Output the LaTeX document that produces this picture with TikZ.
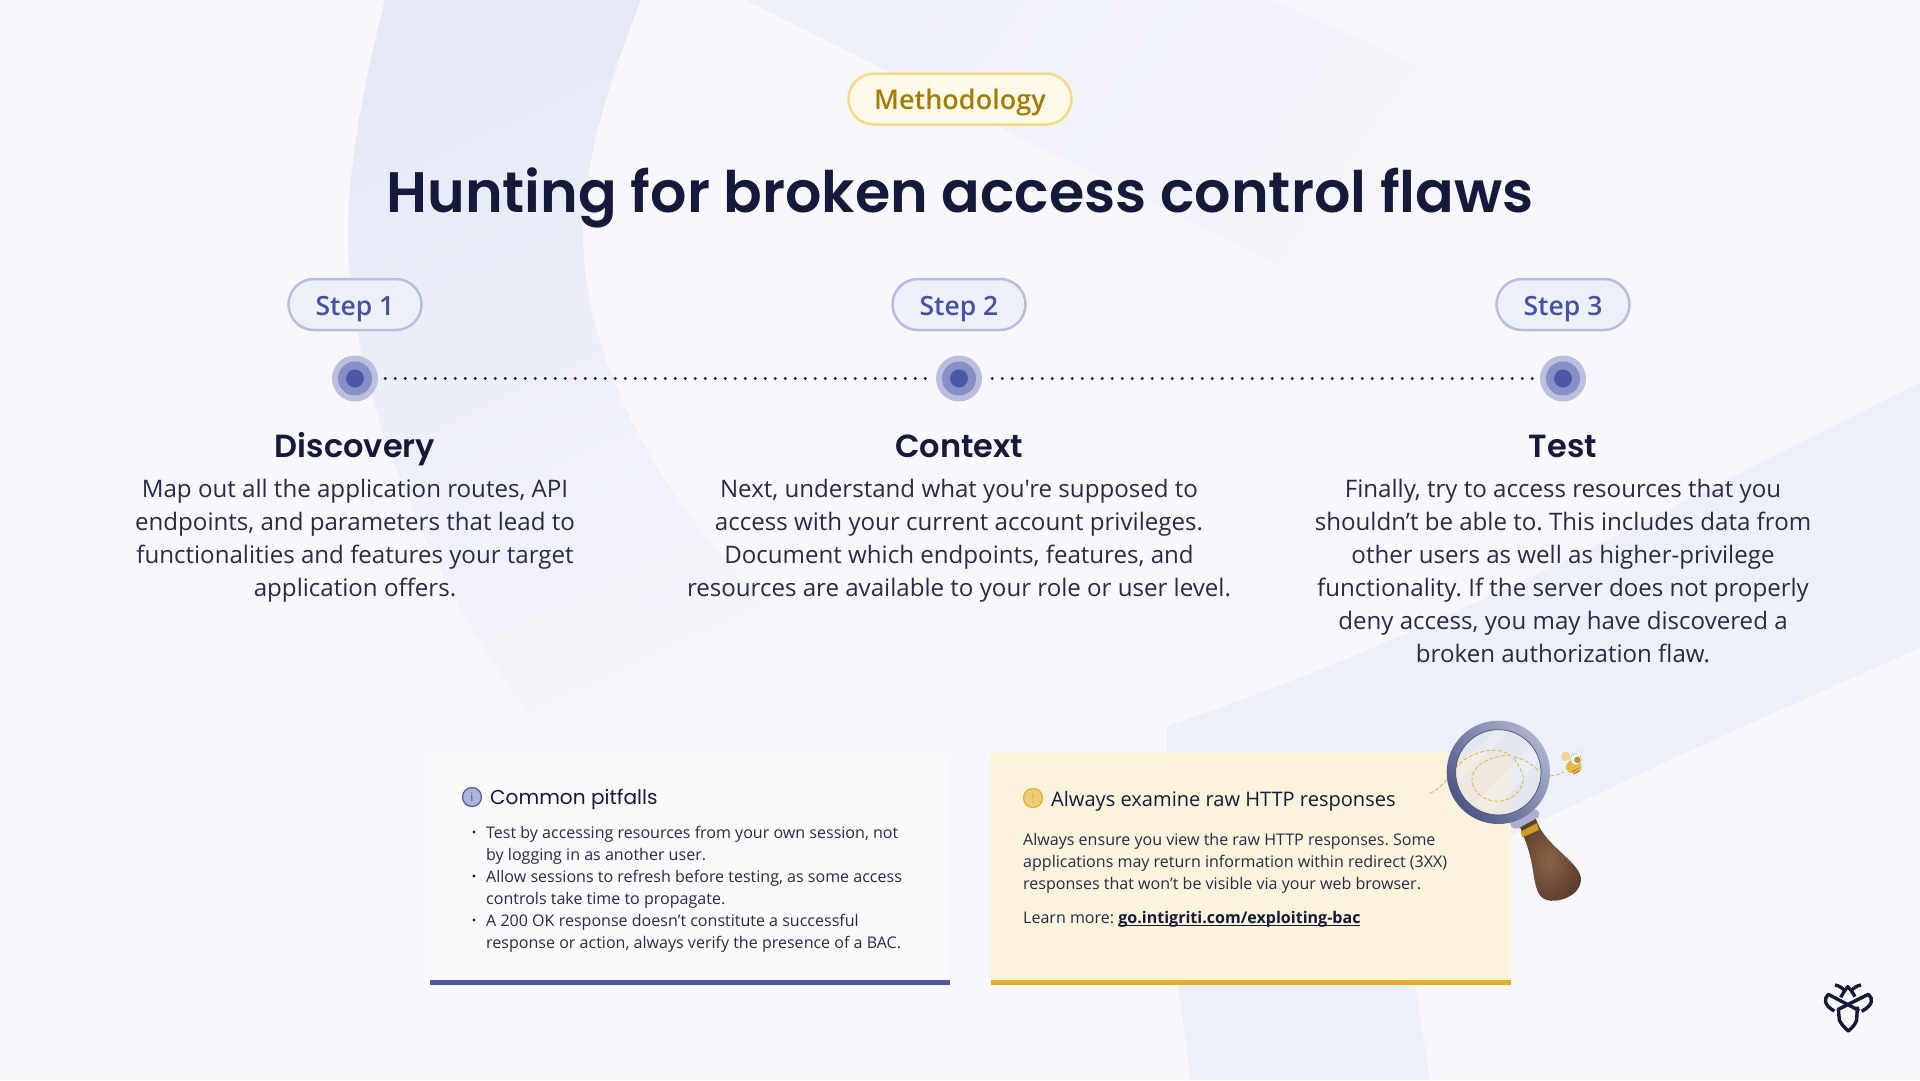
\documentclass[tikz,border=0pt]{standalone}
\usepackage{fontspec}
\usepackage{tikz}
\setmainfont{Open Sans}[Ligatures=TeXOff]
\newfontfamily\semifont{Open Sans Semibold}
\newfontfamily\headfont{Poppins SemiBold}
\newfontfamily\cardfont{Poppins}

\definecolor{pagebg}{HTML}{F7F7FC}
\definecolor{waveA}{HTML}{E6E9F5}
\definecolor{waveB}{HTML}{EEF0F9}
\definecolor{ink}{HTML}{161A3A}
\definecolor{bodyink}{HTML}{272B47}
\definecolor{indigo}{HTML}{4B58A8}
\definecolor{stepink}{HTML}{4352A3}
\definecolor{stepfill}{HTML}{EEF0F8}
\definecolor{stepline}{HTML}{B5BDE0}
\definecolor{goldink}{HTML}{A37C05}
\definecolor{goldfill}{HTML}{FEF9E8}
\definecolor{goldline}{HTML}{F5DA85}
\definecolor{gold}{HTML}{E3AE25}
\definecolor{cream}{HTML}{FBF3DC}
\definecolor{paper}{HTML}{FAFAFD}
\definecolor{handledark}{HTML}{5E3F2E}
\definecolor{handlelight}{HTML}{8A6248}
\definecolor{rimdark}{HTML}{4C5585}
\definecolor{rimlight}{HTML}{AEB2CC}
\definecolor{lens}{HTML}{CDCFDA}
\definecolor{collar}{HTML}{AAB0CE}
\definecolor{flight}{HTML}{D9B75C}

\tikzset{
	pill/.style={draw, line width=2.5pt, rounded corners=25.5pt, inner sep=0pt, minimum height=51pt, text height=21pt, text depth=0pt},
	stepbadge/.style={pill, fill=stepfill, draw=stepline, text=stepink, minimum width=133pt, font=\semifont\fontsize{26.5}{30}\selectfont},
	halo/.style={circle, inner sep=0pt, minimum size=46pt, fill=#1},
	dotline/.style={line width=3.2pt, line cap=round, dash pattern=on 0pt off 10pt, ink},
	colhead/.style={anchor=base, text=ink, font=\headfont\fontsize{32}{36}\selectfont},
	colbody/.style={anchor=north, align=center, inner sep=0pt, text=bodyink, font=\fontsize{24.1}{33}\selectfont},
	cardbody/.style={anchor=north west, align=left, inner sep=0pt, text=bodyink, font=\fontsize{16.05}{22}\selectfont},
	cardicon/.style={circle, inner sep=0pt, minimum size=19pt, line width=1.2pt},
	flightpath/.style={flight, line width=.9pt, dash pattern=on 4pt off 2pt},
}

\begin{document}
\frenchspacing
\begin{tikzpicture}[x=1pt,y=-1pt]
	\useasboundingbox (0,0) rectangle (1920,1080);
	\fill [pagebg] (0,0) rectangle (1920,1080);

	% Background %
	\shade [top color=waveA, middle color=waveB!55!pagebg, bottom color=pagebg, shading angle=25]
		(385,0) .. controls (362,90) and (348,170) .. (348,233) .. controls (348,400) and (440,610) .. (560,753)
		-- (950,753) -- (948,723) .. controls (720,620) and (583,400) .. (583,233) .. controls (583,170) and (605,90) .. (641,0) -- cycle;
	\shade [top color=waveB, bottom color=pagebg, shading angle=55]
		(746,0) -- (1381,317) -- (1600,150) -- (1273,0) -- cycle;
	\fill [waveB] (1167,726) .. controls (1350,665) and (1530,580) .. (1687,500) -- (1920,383) -- (1920,648)
		.. controls (1780,710) and (1640,770) .. (1400,890) -- (1415,985) -- (1430,1080) -- (1191,1080) -- (1178,985) -- (1167,753) -- cycle;

	% Header %
	\node [pill, fill=goldfill, draw=goldline, text=goldink, minimum width=223pt, font=\semifont\fontsize{27}{30}\selectfont] (badge) at (960,99) {Methodology};
	\node [anchor=base, text=ink, font=\headfont\fontsize{57.1}{60}\selectfont] (title) at (960,212) {Hunting for broken access control flaws};

	% Steps %
	\foreach \n/\x/\lab in {1/355/Step 1, 2/959/Step 2, 3/1563/Step 3} {
		\node [stepbadge] (pill\n) at (\x,304.5) {\lab};
		\node [halo=indigo!35!pagebg] (dot\n) at (\x,378.5) {};
		\node [halo=indigo!65!pagebg, minimum size=34pt] (mid\n) at (\x,378.5) {};
		\node [halo=indigo, minimum size=18pt] (core\n) at (\x,378.5) {};
	}
	\draw [dotline, shorten <=7pt, shorten >=9pt] (dot1) -- (dot2);
	\draw [dotline, shorten <=10pt, shorten >=7pt] (dot2) -- (dot3);

	% Columns %
	\node [colhead] (head1) at (355,457) {Discovery};
	\node [colhead] (head2) at (959,457) {Context};
	\node [colhead] (head3) at (1563,457) {Test};
	\node [colbody] (text1) at (355,479.3) {Map out all the application routes, API\\endpoints, and parameters that lead to\\functionalities and features your target\\application offers.};
	\node [colbody] (text2) at (959,479.3) {Next, understand what you're supposed to\\access with your current account privileges.\\Document which endpoints, features, and\\resources are available to your role or user level.};
	\node [colbody] (text3) at (1563,479.3) {Finally, try to access resources that you\\shouldn’t be able to. This includes data from\\other users as well as higher-privilege\\functionality. If the server does not properly\\deny access, you may have discovered a\\broken authorization flaw.};

	% Cards %
	\fill [paper] (430,753) rectangle (950,985);
	\fill [indigo] (430,980) rectangle (950,985);
	\fill [cream] (991,753) rectangle (1511,985);
	\fill [gold] (991,980) rectangle (1511,985);

	% Pitfalls %
	\node [cardicon, draw=indigo, fill=indigo!45!white, text=indigo, font=\fontsize{12}{12}\selectfont] (infoicon) at (472,797) {i};
	\node [anchor=base west, inner sep=0pt, text=ink, font=\cardfont\fontsize{20.1}{24}\selectfont] (pitfalls) at (490,804) {Common pitfalls};
	\foreach \y in {832, 876, 920} \fill [ink] (474,\y) circle (1.6);
	\node [cardbody] (pitfalltext) at (486,826) {Test by accessing resources from your own session, not\\by logging in as another user.\\Allow sessions to refresh before testing, as some access\\controls take time to propagate.\\A 200 OK response doesn’t constitute a successful\\response or action, always verify the presence of a BAC.};

	% Warning %
	\node [cardicon, draw=gold, fill=gold!55!cream, text=gold, font=\fontsize{12}{12}\selectfont] (warnicon) at (1033,798) {!};
	\node [anchor=base west, inner sep=0pt, text=ink, font=\fontsize{20.05}{24}\selectfont] (warning) at (1051,806) {Always examine raw HTTP responses};
	\node [cardbody] (warntext) at (1023,833) {Always ensure you view the raw HTTP responses. Some\\applications may return information within redirect (3XX)\\responses that won’t be visible via your web browser.};
	\node [anchor=base west, inner sep=0pt, text=bodyink, font=\fontsize{16.05}{22}\selectfont] (learn) at (1023,923) {Learn more: \textbf{\color{ink}go.intigriti.com/exploiting-bac}};
	\draw [ink, line width=.8pt] (1118,925) -- (1360,925);

	% Magnifier, in the units of a 3x crop %
	\begin{scope}[shift={(1400,700)},x=.3333pt,y=-.3333pt]
		% Handle %
		\shade [inner color=handlelight, outer color=handledark] (350,378) -- (405,350) -- (412,368) .. controls (440,440) and (545,490) .. (543,540) .. controls (540,590) and (470,610) .. (440,600) .. controls (405,590) and (405,540) .. (395,490) .. controls (388,450) and (375,420) .. (362,385) -- cycle;
		\fill [gold!90!black] (362,395) -- (410,370) -- (417,390) -- (368,412) -- cycle;
		\fill [collar] (330,368) -- (405,328) .. controls (420,330) and (420,345) .. (415,352) -- (360,382) .. controls (345,390) and (332,385) .. (330,368) -- cycle;
		% Lens %
		\fill [lens, opacity=.3] (295,217) circle [radius=130];
		\begin{scope}
			\clip (295,217) circle [radius=130];
			\fill [white, opacity=.25] (170,200) -- (290,90) -- (330,90) -- (180,240) -- cycle;
			\fill [white, opacity=.25] (225,310) -- (400,130) -- (430,170) -- (270,340) -- cycle;
		\end{scope}
		% Flight path %
		\draw [flightpath] (90,280) .. controls (120,268) and (150,230) .. (170,200) .. controls (200,165) and (280,130) .. (330,165) .. controls (250,170) and (210,210) .. (216,245) .. controls (225,290) and (270,310) .. (310,302) .. controls (360,290) and (385,240) .. (360,205) .. controls (350,185) and (340,175) .. (340,170) .. controls (370,175) and (400,195) .. (418,215);
		\draw [flightpath] (450,228) .. controls (470,226) and (480,222) .. (492,216);
		% Rim %
		\path [even odd rule, top color=rimlight, bottom color=rimdark, shading angle=-50] (295,217) circle [radius=155] (295,217) circle [radius=128];
		\draw [rimdark, line width=.7pt] (295,217) circle [radius=128];
		% Bee %
		\fill [gold!40!cream] (483,172) .. controls (485,150) and (505,148) .. (512,168) .. controls (512,180) and (490,195) .. (483,172) -- cycle;
		\fill [gold!85!white] (497,200) .. controls (505,170) and (545,170) .. (545,205) .. controls (540,225) and (500,228) .. (497,200) -- cycle;
		\fill [white, draw=gray!60, line width=.5pt] (528,178) circle [radius=17];
		\fill [gold!85!black] (532,180) circle [radius=10];
		\fill [white, draw=gray!50, line width=.3pt] (537,160) circle [radius=9];
		\draw [gold!60!black, line width=.6pt] (515,215) -- (535,205) (520,222) -- (540,212);
	\end{scope}

	% Logo, in the units of a 3x crop %
	\begin{scope}[shift={(1800,970)},x=.3333pt,y=-.3333pt, ink, line width=3.4pt, line join=round]
		\draw (105,45) .. controls (118,47) and (128,55) .. (134,62) -- (122,82);
		\draw (183,45) .. controls (170,47) and (160,55) .. (154,62) -- (165,80);
		\draw (134,62) -- (143,50) -- (154,62);
		\draw (103,123) .. controls (70,105) and (72,85) .. (85,73) -- (178,122);
		\draw (185,124) .. controls (220,105) and (220,85) .. (205,73) -- (115,118) -- (118,150) .. controls (122,160) and (135,175) .. (145,183) .. controls (155,175) and (168,160) .. (170,150) -- (172,110);
	\end{scope}
\end{tikzpicture}
\end{document}
